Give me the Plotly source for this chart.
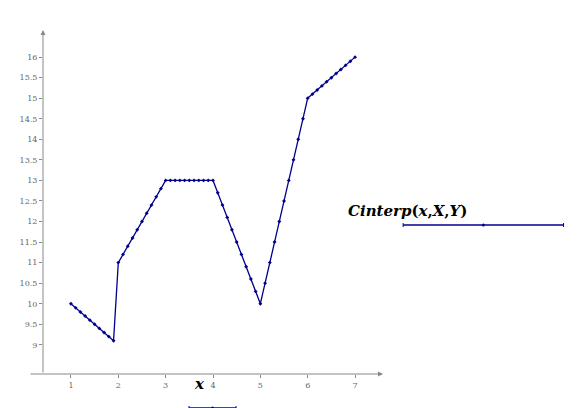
import plotly.graph_objects as go

x_vals = [1.0,1.1,1.2,1.3,1.4,1.5,1.6,1.7,1.8,1.9,2.0,2.1,2.2,2.3,2.4,2.5,2.6,2.7,2.8,2.9,3.0,
          3.1,3.2,3.3,3.4,3.5,3.6,3.7,3.8,3.9,4.0,4.1,4.2,4.3,4.4,4.5,4.6,4.7,4.8,4.9,5.0,
          5.1,5.2,5.3,5.4,5.5,5.6,5.7,5.8,5.9,6.0,6.1,6.2,6.3,6.4,6.5,6.6,6.7,6.8,6.9,7.0]
y_vals = [10,9.9,9.8,9.7,9.6,9.5,9.4,9.3,9.2,9.1,11,11.2,11.4,11.6,11.8,12,12.2,12.4,12.6,12.8,13,
          13,13,13,13,13,13,13,13,13,13,12.7,12.4,12.1,11.8,11.5,11.2,10.9,10.6,10.3,10,
          10.5,11,11.5,12,12.5,13,13.5,14,14.5,15,15.1,15.2,15.3,15.4,15.5,15.6,15.7,15.8,15.9,16]
x_ticks = [1,2,3,4,5,6,7]
y_ticks = [9,9.5,10,10.5,11,11.5,12,12.5,13,13.5,14,14.5,15,15.5,16]

W, H = 584, 408
L, R, T, B = 21, 209, 22, 42
pw, ph = W-L-R, H-T-B
def px(x): return (x-L)/pw
def py(y): return 1-(y-T)/ph

navy = "#00008b"
fig = go.Figure(go.Scatter(x=x_vals, y=y_vals, mode="lines+markers",
    line=dict(color=navy, width=1.3), marker=dict(color=navy, size=3, symbol="diamond")))

axfont = dict(family="DejaVu Serif", size=8, color="#666666")
fig.update_layout(
    width=W, height=H, margin=dict(l=L, r=R, t=T, b=B),
    paper_bgcolor="white", plot_bgcolor="white", showlegend=False,
    xaxis=dict(range=[0.41, 7.59], tickvals=x_ticks, ticks="outside", ticklen=3,
               tickcolor="#888", showgrid=False, zeroline=False, showline=False, tickfont=axfont),
    yaxis=dict(range=[8.29, 16.66], tickvals=y_ticks, ticks="outside", ticklen=3,
               tickcolor="#888", showgrid=False, zeroline=False, showline=False, tickfont=axfont),
)
gray = "#888888"
fig.add_annotation(xref="paper", yref="paper", x=1.0, y=0, ax=-pw, ay=0,
                   showarrow=True, arrowhead=2, arrowsize=1, arrowwidth=1, arrowcolor=gray, text="")
fig.add_annotation(xref="paper", yref="paper", x=0, y=1.0, ax=0, ay=ph,
                   showarrow=True, arrowhead=2, arrowsize=1, arrowwidth=1, arrowcolor=gray, text="")
fig.add_annotation(xref="paper", yref="paper", x=px(184), y=py(387), showarrow=False,
                   text="<b><i>x</i></b>", font=dict(family="DejaVu Serif", size=15, color="black"))
fig.add_shape(type="line", xref="paper", yref="paper", x0=px(173), x1=px(222), y0=py(400), y1=py(400),
              line=dict(color=navy, width=1.3))
for xx in (173, 222):
    fig.add_shape(type="line", xref="paper", yref="paper", x0=px(xx), x1=px(xx), y0=py(398), y1=py(402),
                  line=dict(color=navy, width=1))
fig.add_annotation(xref="paper", yref="paper", x=px(465), y=py(203), showarrow=False,
                   text="<b><i>Cinterp</i>(<i>x</i>,<i>X</i>,<i>Y</i>)</b>",
                   font=dict(family="DejaVu Serif", size=15, color="black"))
fig.add_shape(type="line", xref="paper", yref="paper", x0=px(396), x1=px(563), y0=py(217), y1=py(217),
              line=dict(color=navy, width=1.3))
for xx in (396, 563):
    fig.add_shape(type="line", xref="paper", yref="paper", x0=px(xx), x1=px(xx), y0=py(215), y1=py(219),
                  line=dict(color=navy, width=1))
fig.add_shape(type="circle", xref="paper", yref="paper", x0=px(478), x1=px(481), y0=py(215.5), y1=py(218.5),
              fillcolor=navy, line=dict(color=navy, width=0))
fig.add_shape(type="circle", xref="paper", yref="paper", x0=px(196), x1=px(199), y0=py(398.5), y1=py(401.5),
              fillcolor=navy, line=dict(color=navy, width=0))
fig.write_html("out.html")
